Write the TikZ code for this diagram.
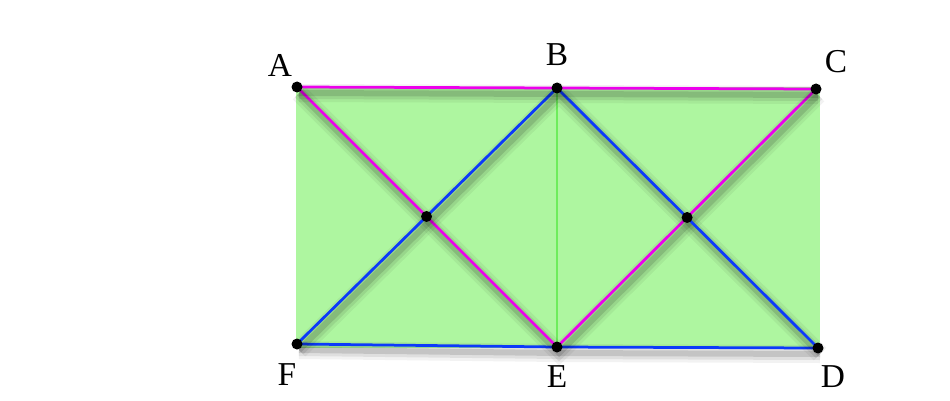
\documentclass[tikz,border=0pt]{standalone}
\usepackage{fontspec}
\setmainfont{Liberation Serif}
\definecolor{rectfill}{RGB}{174,246,160}
\definecolor{midgreen}{RGB}{110,236,92}
\definecolor{pinkline}{RGB}{236,0,236}
\definecolor{blueline}{RGB}{12,58,250}
\tikzset{
  pt/.style={circle, fill=black, inner sep=0pt, minimum size=2.2mm},
  lbl/.style={font=\fontsize{19}{22}\selectfont},
  shade line/.style={
    preaction={draw=black, draw opacity=0.05, line width=3.6mm, transform canvas={shift={(2,-6)}}},
    preaction={draw=black, draw opacity=0.08, line width=2.4mm, transform canvas={shift={(2,-6)}}},
    preaction={draw=black, draw opacity=0.12, line width=1.2mm, transform canvas={shift={(2,-6)}}}},
  pinkedge/.style={shade line, draw=pinkline, line width=0.55mm},
  blueedge/.style={shade line, draw=blueline, line width=0.55mm}
}
\begin{document}
\begin{tikzpicture}[x=0.2mm, y=0.2mm]
        \useasboundingbox (0,0) rectangle (950,400);
        \coordinate (A) at (297,313);
        \coordinate (B) at (557,312);
        \coordinate (C) at (816,311);
        \coordinate (D) at (818,52);
        \coordinate (E) at (557,53);
        \coordinate (F) at (297,56);
        \coordinate (X) at (intersection of A--E and F--B);
        \coordinate (Y) at (intersection of B--D and E--C);
        \fill[rectfill] (296,52) rectangle (820,313);
        \draw[midgreen, line width=0.35mm] (B) -- (E);
        \draw[blueedge] (F) -- (E) -- (D);
        \draw[pinkedge] (A) -- (E) -- (C);
        \draw[blueedge] (F) -- (B) -- (D);
        \draw[pinkedge] (A) -- (B) -- (C);
        \foreach \p in {A,B,C,D,E,F,X,Y}
            \node[pt] (n\p) at (\p) {};
        \node[lbl] (lA) at (280,335) {A};
        \node[lbl] (lB) at (557,345) {B};
        \node[lbl] (lC) at (836,338) {C};
        \node[lbl] (lD) at (833,23) {D};
        \node[lbl] (lE) at (557,23) {E};
        \node[lbl] (lF) at (287,25) {F};
\end{tikzpicture}
\end{document}
